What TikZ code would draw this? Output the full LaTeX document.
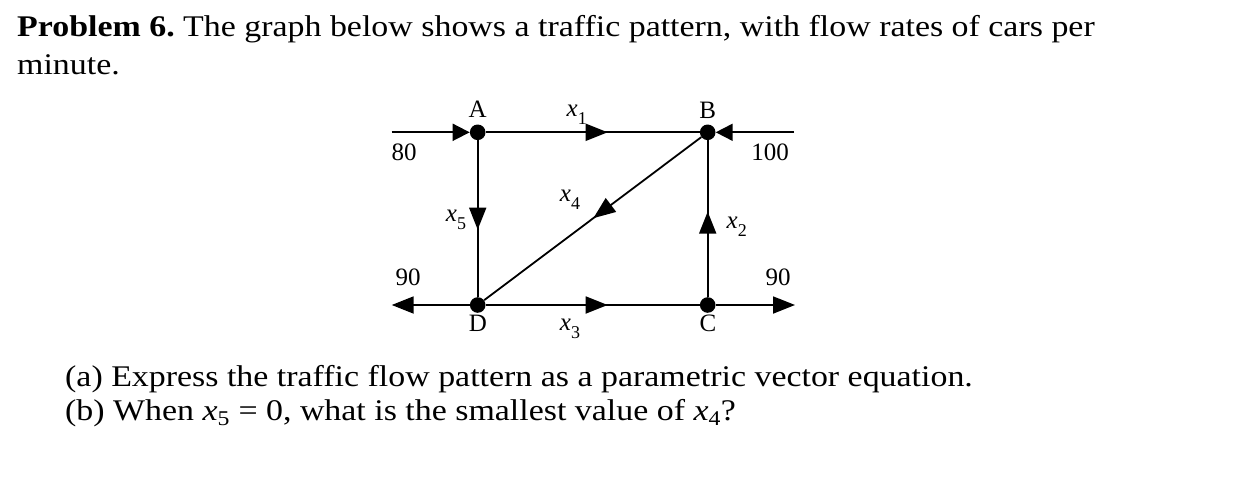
\documentclass[tikz,border=0pt]{standalone}
\usepackage{fontspec}
\setmainfont[FakeStretch=1.13]{Liberation Serif}
\newfontfamily\graphfont{Liberation Serif}
\usetikzlibrary{arrows.meta, decorations.markings}

\newcommand{\flowvar}[1]{\textit{x}\raisebox{-8pt}{\fontsize{18}{18}\selectfont #1}}
\frenchspacing

\begin{document}
\begin{tikzpicture}[x=1pt, y=-1pt,
    dot/.style={circle, fill=black, inner sep=0pt, minimum size=15.6pt},
    road/.style={line width=1.8pt},
    lbl/.style={anchor=base, inner sep=0pt, font=\graphfont\fontsize{25}{25}\selectfont},
    txt/.style={anchor=base west, inner sep=0pt, font=\fontsize{30}{38}\selectfont},
    mid/.style={road, postaction={decorate}, decoration={markings,
        mark=at position #1 with {\arrow{Triangle[length=22pt, width=17pt]}}}},
    inarrow/.style={road, -{Triangle[length=17pt, width=17pt]}},
    outarrow/.style={road, -{Triangle[length=22pt, width=17pt]}}]

\useasboundingbox (0,0) rectangle (1256,488);

% Problem text
\node[txt] (line1) at (17,36.7) {\textbf{Problem 6.} The graph below shows a traffic pattern, with flow rates of cars per};
\node[txt] (line2) at (17,74) {minute.};

% Intersections
\node[dot] (A) at (477.7,132.3) {};
\node[dot] (B) at (707.7,132.3) {};
\node[dot] (C) at (707.7,305) {};
\node[dot] (D) at (477.7,305) {};

% Free ends
\coordinate (inA) at (391.7,132.3);
\coordinate (inB) at (794,132.3);
\coordinate (outD) at (391.7,305);
\coordinate (outC) at (795,305);

% Roads
\draw[mid=0.57] (A) -- (B);
\draw[mid=0.545] (C) -- (B);
\draw[mid=0.57] (D) -- (C);
\draw[mid=0.497] (B) -- (D);
\draw[mid=0.57] (A) -- (D);

% Inflow and outflow
\draw[inarrow] (inA) -- (A);
\draw[inarrow] (inB) -- (B);
\draw[outarrow] (D) -- (outD);
\draw[outarrow] (C) -- (outC);

% Labels
\node[lbl] (labA) at (477.7,117) {A};
\node[lbl] (labB) at (707.7,118) {B};
\node[lbl] (labC) at (708,331.7) {C};
\node[lbl] (labD) at (478,331.7) {D};
\node[lbl] (lab80) at (404,160) {80};
\node[lbl] (lab100) at (770,160) {100};
\node[lbl] (lab90l) at (408,285) {90};
\node[lbl] (lab90r) at (778,285) {90};
\node[lbl] (labx1) at (576.7,116.7) {\flowvar{1}};
\node[lbl] (labx2) at (736.7,228.3) {\flowvar{2}};
\node[lbl] (labx3) at (570,330) {\flowvar{3}};
\node[lbl] (labx4) at (570,201.7) {\flowvar{4}};
\node[lbl] (labx5) at (456,221.7) {\flowvar{5}};

% Questions
\node[txt] (qa) at (65,386.7) {(a) Express the traffic flow pattern as a parametric vector equation.};
\node[txt] (qb) at (65,420.7) {(b) When \textit{x}\textsubscript{5} = 0, what is the smallest value of \textit{x}\textsubscript{4}?};

\end{tikzpicture}
\end{document}
